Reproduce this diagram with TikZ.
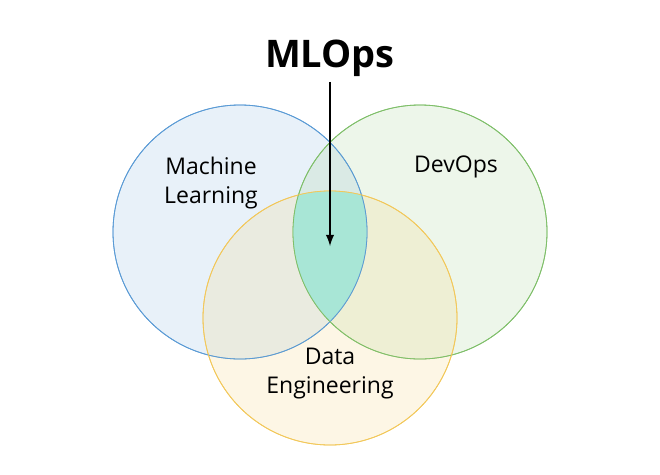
\documentclass[tikz,border=0pt]{standalone}
\usepackage{fontspec}
\setmainfont{Open Sans}
\definecolor{mlblue}{HTML}{5B9BD5}
\definecolor{dogreen}{HTML}{7FBF6A}
\definecolor{deyellow}{HTML}{F2C85B}
\definecolor{coreteal}{HTML}{A8E6D6}
\begin{document}
\begin{tikzpicture}[x=1pt,y=-1pt]
        \useasboundingbox (0,0) rectangle (660,474);
        \tikzset{set/.style={line width=0.8pt,fill opacity=0.2},
                 lbl/.style={font=\fontsize{23}{29}\selectfont,align=center}}

        % Define coordinates for the three circle centres
        \coordinate (ml) at (240,232);
        \coordinate (dev) at (420,232);
        \coordinate (de) at (330,318);

        % Draw the three sets
        \draw[set,draw=mlblue,fill=mlblue!70] (ml) circle (127);
        \draw[set,draw=dogreen,fill=dogreen!70] (dev) circle (127);
        \draw[set,draw=deyellow,fill=deyellow!80] (de) circle (127);

        % Fill the common part
        \begin{scope}
            \clip (ml) circle (127);
            \clip (dev) circle (127);
            \fill[coreteal] (de) circle (127);
        \end{scope}
        \draw[mlblue,line width=0.8pt] (ml) circle (127);
        \draw[dogreen,line width=0.8pt] (dev) circle (127);
        \draw[deyellow,line width=0.8pt] (de) circle (127);

        % Labels
        \node[lbl] (mltext) at (211,183) {Machine\\Learning};
        \node[lbl] (devtext) at (456,167) {DevOps};
        \node[lbl] (detext) at (330,374) {Data\\Engineering};
        \node[font=\fontsize{38}{44}\selectfont\bfseries] (title) at (330,58) {MLOps};
        \coordinate (core) at (330,246);
        \draw[-latex,line width=2.8pt] (title.south) ++(0,2) -- (core);

\end{tikzpicture}
\end{document}
